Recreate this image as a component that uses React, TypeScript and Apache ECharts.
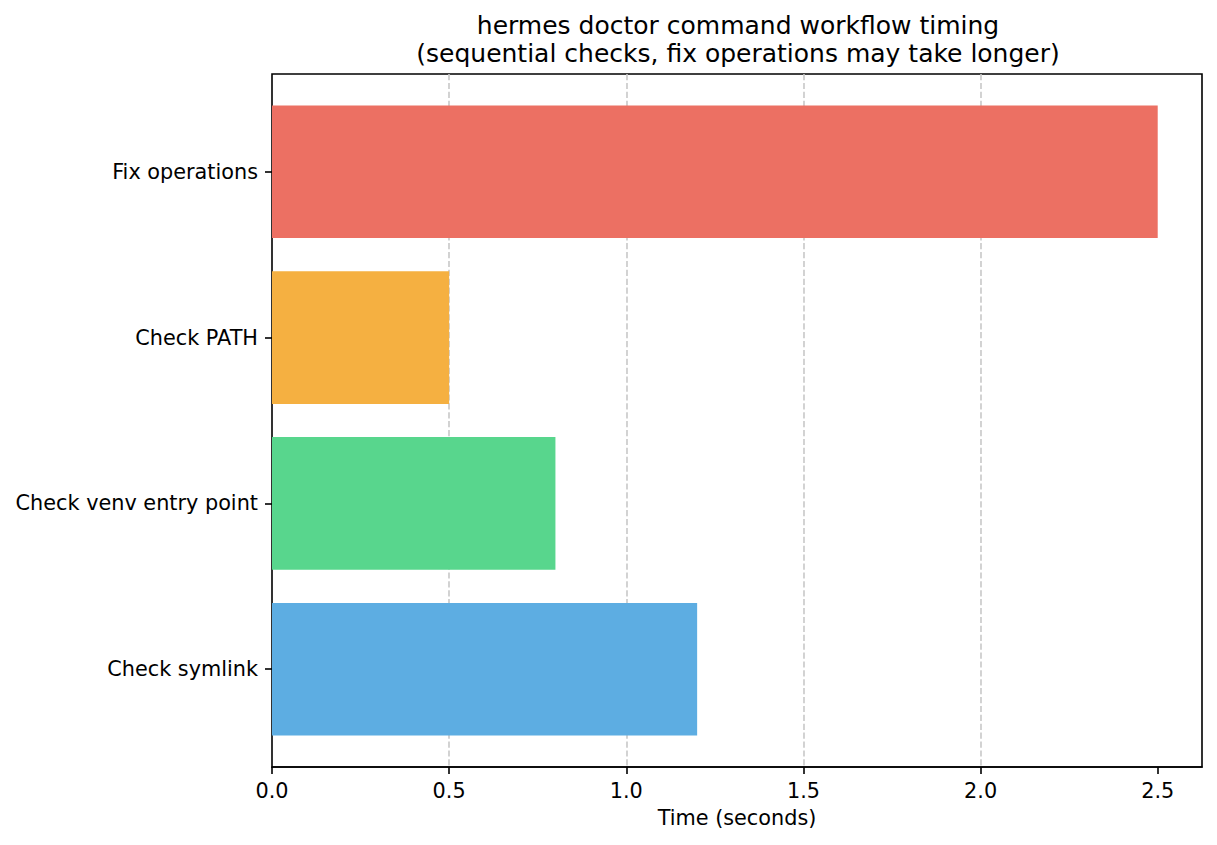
import React, { useEffect, useRef } from 'react';
import * as echarts from 'echarts';

const categories = ['Check symlink', 'Check venv entry point', 'Check PATH', 'Fix operations'];
const durations = [1.2, 0.8, 0.5, 2.5];
const barColors = ['#5DADE2', '#58D68D', '#F5B041', '#EC7063'];
const xTicks = [0, 0.5, 1.0, 1.5, 2.0, 2.5];
const xMax = 2.625;
const titleLines = ['hermes doctor command workflow timing', '(sequential checks, fix operations may take longer)'];
const xAxisName = 'Time (seconds)';

const FONT = 'DejaVu Sans';
const AXIS_LINE = { color: '#000', width: 1.6 };

export default function App() {
  const ref = useRef<HTMLDivElement>(null);
  useEffect(() => {
    if (!ref.current) return;
    const chart = echarts.init(ref.current, null, { renderer: 'svg' });
    const option: any = {
      animation: false,
      backgroundColor: '#fff',
      title: {
        text: titleLines.join('\n'),
        left: 733,
        top: 7,
        textAlign: 'center',
        textStyle: { fontFamily: FONT, fontSize: 25, fontWeight: 'normal', color: '#000', lineHeight: 27.5 },
      },
      grid: [
        { left: 272, right: 15, top: 74, bottom: 78, show: true, borderColor: '#000', borderWidth: 1.6, backgroundColor: 'transparent' },
        { left: 272, right: 15, top: 88.9, bottom: 92.9 },
      ],
      xAxis: [
        {
          gridIndex: 0,
          type: 'value',
          min: 0,
          max: xMax,
          interval: 0.5,
          name: xAxisName,
          nameLocation: 'middle',
          nameGap: 40,
          nameTextStyle: { fontFamily: FONT, fontSize: 20.8, color: '#000' },
          axisLine: { show: true, lineStyle: AXIS_LINE },
          axisTick: { show: true, length: 7, customValues: xTicks, lineStyle: AXIS_LINE },
          axisLabel: {
            customValues: xTicks,
            formatter: (v: number) => v.toFixed(1),
            margin: 13,
            fontFamily: FONT,
            fontSize: 20.8,
            color: '#000',
          },
          splitLine: {
            show: true,
            showMinLine: false,
            showMaxLine: false,
            lineStyle: { color: '#c8c8c8', width: 1.6, type: [6.2, 2.7] },
          },
        },
        { gridIndex: 1, type: 'value', min: 0, max: xMax, show: false },
      ],
      yAxis: [
        {
          gridIndex: 0,
          type: 'value',
          min: 0,
          max: 1,
          axisLine: { show: false },
          axisTick: { show: false },
          axisLabel: { show: false },
          splitLine: { show: false },
        },
        {
          gridIndex: 1,
          type: 'category',
          data: categories,
          axisLine: { show: false },
          axisTick: { show: true, alignWithLabel: true, length: 7, lineStyle: AXIS_LINE },
          axisLabel: { margin: 14, fontFamily: FONT, fontSize: 20.8, color: '#000' },
          splitLine: { show: false },
        },
      ],
      series: [
        {
          type: 'bar',
          xAxisIndex: 1,
          yAxisIndex: 1,
          barWidth: '80%',
          data: durations.map((v, i) => ({ value: v, itemStyle: { color: barColors[i] } })),
        },
      ],
    };
    chart.setOption(option);
    return () => chart.dispose();
  }, []);
  return <div ref={ref} style={{ position: 'fixed', left: 0, top: 0, width: 1217, height: 845 }} />;
}
